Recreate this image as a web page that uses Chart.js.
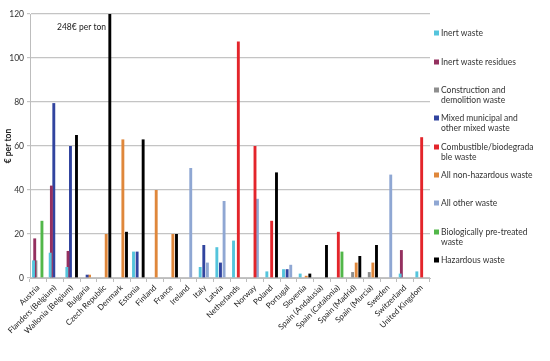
<!DOCTYPE html>
<html>
<head>
<meta charset="utf-8">
<script src="https://cdn.jsdelivr.net/npm/chart.js@4.4.1/dist/chart.umd.min.js"></script>
<style>
html,body{margin:0;padding:0;background:#fff;}
#wrap{width:550px;height:361px;position:relative;}
</style>
</head>
<body>
<div id="wrap"><canvas id="c" width="550" height="361"></canvas></div>
<script>
const categories = ["Austria","Flanders (Belgium)","Wallonia (Belgium)","Bulgaria","Czech Republic","Denmark","Estonia","Finland","France","Ireland","Italy","Latvia","Netherlands","Norway","Poland","Portugal","Slovenia","Spain (Andalusia)","Spain (Catalonia)","Spain (Madrid)","Spain (Murcia)","Sweden","Switzerland","United Kingdom"];

const seriesNames = ["Inert waste","Inert waste residues","Construction and demolition waste","Mixed municipal and other mixed waste","Combustible/biodegradable waste","All non-hazardous waste","All other waste","Biologically pre-treated waste","Hazardous waste"];

//                 Aus  Fla  Wal  Bul  Cze  Den  Est  Fin  Fra  Ire  Ita  Lat  Net   Nor  Pol  Por  Slo  And  Cat  Mad  Mur  Swe  Swi  UK
const inertWaste = [8,  11.5, 5,  null,null,null, 12, null,null,null, 5,  14,  17,  null, 3,   4,   2,  null,null,null,null,null, 2,   3];
const inertResidues = [18, 42, 12.3,null,null,null,null,null,null,null,null,null,null,null,null,null,null,null,null,null,null,null,12.7,null];
const constructionWaste = [8,null,null,null,null,null,null,null,null,null,null,null,null,null,null,null,null,null,null,2.7,2.7,null,null,null];
const mixedMunicipal = [null,79.5,60, 1.5, null,null, 12, null,null,null, 15,  7,  null,null,null, 4,  null,null,null,null,null,null,null,null];
const combustible = [null,null,null,null,null,null,null,null,null,null,null,null,107.5,60, 26, null,null,null, 21, null,null,null,null, 64];
const nonHazardous = [null,null,null,1.5, 20,  63, null, 40,  20, null,null,null,null,null,null,null, 1,  null,null, 7,   7,  null,null,null];
const allOther = [null,null,null,null,null,null,null,null,null, 50,  7,   35, null, 36, null, 6,  null,null,null,null,null, 47, null,null];
const bioPretreated = [26,null,null,null,null,null,null,null,null,null,null,null,null,null,null,null,null,null, 12, null,null,null,null,null];
const hazardous = [null,null, 65, null,248,  21,  63, null, 20, null,null,null,null,null, 48, null, 2,   15, null, 10,  15, null,null,null];

const yTicks = [0,20,40,60,80,100,120];
const annotationText = "248\u20AC per ton";
const yTitle = "\u20AC per ton";

const colors = ["#54c4dc","#94305f","#8e8e8e","#31449f","#e3252b","#df873b","#8fa7d3","#52b74a","#000000"];
const seriesData = [inertWaste,inertResidues,constructionWaste,mixedMunicipal,combustible,nonHazardous,allOther,bioPretreated,hazardous];
const legendLines = [["Inert waste"],["Inert waste residues"],["Construction and","demolition waste"],["Mixed municipal and","other mixed waste"],["Combustible/biodegrada","ble waste"],["All non-hazardous waste"],["All other waste"],["Biologically pre-treated","waste"],["Hazardous waste"]];
const legendY = [33,62,95,123,152,175,203,237,260];

const FONT = "Lato, 'Liberation Sans', sans-serif";

const customDraw = {
  id:'customDraw',
  afterDraw(chart){
    const ctx = chart.ctx;
    ctx.save();
    ctx.font = "8.5px " + FONT;
    ctx.fillStyle = "#222";
    ctx.textBaseline = "middle";
    ctx.textAlign = "left";
    ctx.fillText(annotationText, 57, 27);
    // legend
    chart.data.datasets.forEach((ds,i)=>{
      const lines = legendLines[i];
      const y0 = legendY[i] - (lines.length-1)*5;
      ctx.fillStyle = ds.backgroundColor;
      ctx.fillRect(434, y0-2.5, 5, 5);
      ctx.fillStyle = "#333";
      lines.forEach((ln,k)=>{
        ctx.fillText(ln, 441, y0 + k*10.5);
      });
    });
    ctx.restore();
  }
};

new Chart(document.getElementById('c'), {
  type:'bar',
  data:{
    labels:categories,
    datasets: seriesNames.map((n,i)=>({
      label:n,
      data:seriesData[i],
      backgroundColor:colors[i],
      borderWidth:0,
      categoryPercentage:0.65,
      barPercentage:2.4,
      skipNull:false
    }))
  },
  options:{
    responsive:false,
    animation:false,
    devicePixelRatio:1,
    layout:{padding:{left:3,right:120,top:14,bottom:0}},
    plugins:{legend:{display:false},tooltip:{enabled:false}},
    scales:{
      x:{
        grid:{display:true,drawOnChartArea:false,offset:true,tickLength:4,color:"#bdbdbd"},
        border:{color:"#bdbdbd"},
        ticks:{minRotation:45,maxRotation:45,autoSkip:false,font:{family:FONT,size:8},color:"#222",padding:1},
        afterFit(s){ s.height = 83; }
      },
      y:{
        min:0,max:120,
        afterBuildTicks(s){ s.ticks = yTicks.map(v=>({value:v})); },
        grid:{color:"#c4c4c4",lineWidth:1.2,tickLength:3},
        border:{color:"#bdbdbd"},
        ticks:{font:{family:FONT,size:8.5},color:"#333",padding:3},
        title:{display:true,text:yTitle,font:{family:FONT,size:8.5,weight:'bold'},color:"#222",padding:{top:0,bottom:1}},
        afterFit(s){ s.width = 27; }
      }
    }
  },
  plugins:[customDraw]
});
</script>
</body>
</html>
